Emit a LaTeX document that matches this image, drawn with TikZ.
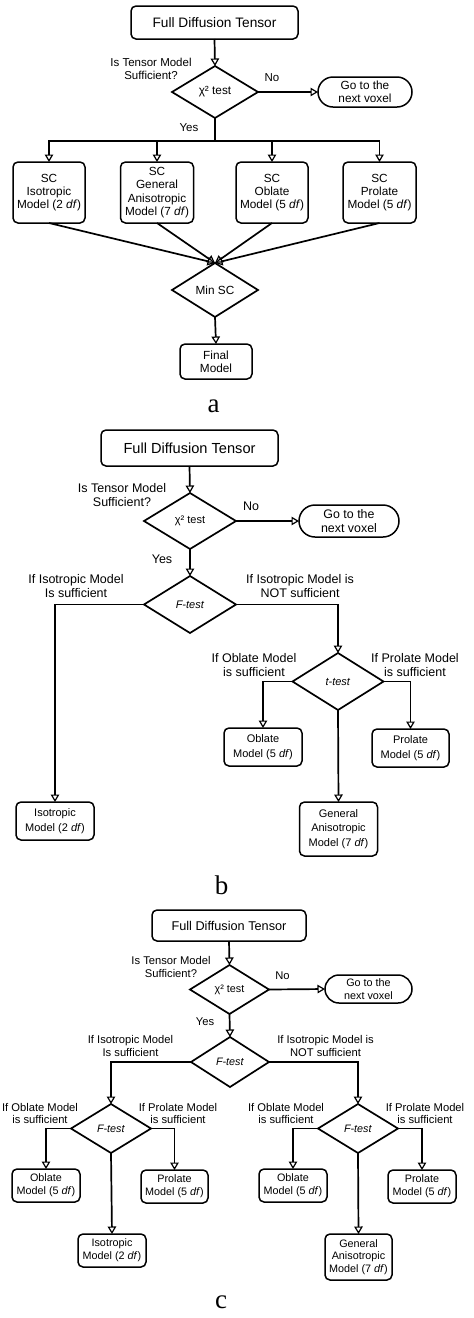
\documentclass[tikz,border=0pt]{standalone}
\usepackage{fontspec}
\setmainfont{Liberation Sans}
\newfontfamily\serifface{Liberation Serif}
\usetikzlibrary{shapes.geometric,shapes.misc,arrows.meta}
\begin{document}
\begin{tikzpicture}[x=1pt,y=-1pt,
  every node/.style={inner sep=0pt, outer sep=0pt},
  box/.style={draw, line width=1.5pt, rounded corners=5pt, align=center},
  dia/.style={draw, diamond, line width=1.7pt, align=center},
  stad/.style={draw, rounded rectangle, line width=1.5pt, align=center},
  lab/.style={align=center},
  ln/.style={line width=1.7pt},
  arr/.style={line width=1.7pt, -{Triangle[open, length=7.5pt, width=8.5pt, line width=1.2pt]}},
  panel/.style={font=\serifface\fontsize{27}{30}\selectfont, anchor=base},
  ta/.style={font=\fontsize{13.7}{15}\selectfont},
  ba/.style={font=\fontsize{11.8}{13.3}\selectfont},
  la/.style={font=\fontsize{11.5}{13.3}\selectfont},
  tb/.style={font=\fontsize{14.6}{16}\selectfont},
  bb/.style={font=\fontsize{11}{14.5}\selectfont},
  lb/.style={font=\fontsize{12.5}{14}\selectfont},
  tc/.style={font=\fontsize{12.7}{14}\selectfont},
  bc/.style={font=\fontsize{10.8}{12.7}\selectfont},
  lc/.style={font=\fontsize{11.2}{12.2}\selectfont},
]
\useasboundingbox (0,0) rectangle (474,1318);

% ---------------- panel a ----------------
\node[box, ta, minimum width=167pt, minimum height=33pt] (fdtA) at (214.5,22.5) {Full Diffusion Tensor};
\node[lab, la] (qA) at (151,69) {Is Tensor Model\\Sufficient?};
\node[dia, ba, minimum width=86pt, minimum height=52pt] (chiA) at (215,92) {χ² test};
\node[la] (noA) at (272,78) {No};
\node[stad, ba, minimum width=94pt, minimum height=30pt] (voxA) at (365,92) {Go to the\\next voxel};
\node[la] (yesA) at (189,128) {Yes};
\coordinate (busA) at (215,141);
\node[box, ba, minimum width=72pt, minimum height=61pt] (sc1) at (49,192.5) {SC\\Isotropic\\Model (2 \textit{df})};
\node[box, ba, minimum width=73pt, minimum height=61pt] (sc2) at (157,192.5) {SC\\General\\Anisotropic\\Model (7 \textit{df})};
\node[box, ba, minimum width=72pt, minimum height=61pt] (sc3) at (272,192.5) {SC\\Oblate\\Model (5 \textit{df})};
\node[box, ba, minimum width=73pt, minimum height=61pt] (sc4) at (379.5,192.5) {SC\\Prolate\\Model (5 \textit{df})};
\node[dia, ba, minimum width=86pt, minimum height=54pt] (minA) at (215,290) {Min SC};
\node[box, ba, minimum width=72pt, minimum height=35pt] (finA) at (216,361.5) {Final\\Model};
\node[panel] (pa) at (213.5,412) {a};

\draw[arr] (fdtA.south) -- (chiA.north);
\draw[arr] (chiA.east) -- (voxA.west);
\draw[ln] (chiA.south) -- (busA);
\draw[arr] (busA) -| (sc1.north);
\draw[arr] (busA) -| (sc2.north);
\draw[arr] (busA) -| (sc3.north);
\draw[arr] (busA) -| (sc4.north);
\draw[arr] (sc1.south) -- (minA.north);
\draw[arr] (sc2.south) -- (minA.north);
\draw[arr] (sc3.south) -- (minA.north);
\draw[arr] (sc4.south) -- (minA.north);
\draw[arr] (minA.south) -- (finA.north);

% ---------------- panel b ----------------
\node[box, tb, minimum width=177pt, minimum height=36pt] (fdtB) at (189.5,448) {Full Diffusion Tensor};
\node[lab, lb] (qB) at (122,495) {Is Tensor Model\\Sufficient?};
\node[dia, bb, minimum width=92pt, minimum height=56pt] (chiB) at (190,521) {χ² test};
\node[lb] (noB) at (251,506) {No};
\node[stad, font=\fontsize{12.4}{14}\selectfont, minimum width=100pt, minimum height=32pt] (voxB) at (349,521) {Go to the\\next voxel};
\node[lb] (yesB) at (162,559) {Yes};
\node[dia, bb, minimum width=92pt, minimum height=57pt] (fB) at (190,604.5) {\textit{F-test}};
\node[lab, lb] (isoLabB) at (76,586) {If Isotropic Model\\Is sufficient};
\node[lab, lb] (notLabB) at (300,586) {If Isotropic Model is\\NOT sufficient};
\node[dia, bb, minimum width=91pt, minimum height=57pt] (tB) at (338,681.5) {\textit{t-test}};
\node[lab, lb] (oblLabB) at (254,665) {If Oblate Model\\is sufficient};
\node[lab, lb] (prolLabB) at (415,665) {If Prolate Model\\is sufficient};
\node[box, bb, minimum width=78pt, minimum height=38pt] (oblB) at (263,747) {Oblate\\Model (5 \textit{df})};
\node[box, bb, minimum width=77pt, minimum height=38pt] (prolB) at (410.5,748) {Prolate\\Model (5 \textit{df})};
\node[box, bb, minimum width=78pt, minimum height=54pt] (genB) at (338.5,829) {General\\Anisotropic\\Model (7 \textit{df})};
\node[box, bb, minimum width=78pt, minimum height=38pt] (isoB) at (55,821) {Isotropic\\Model (2 \textit{df})};
\node[panel] (pb) at (221.5,894) {b};

\draw[arr] (fdtB.south) -- (chiB.north);
\draw[arr] (chiB.east) -- (voxB.west);
\draw[arr] (chiB.south) -- (fB.north);
\draw[arr] (fB.west) -| (isoB.north);
\draw[arr] (fB.east) -| (tB.north);
\draw[arr] (tB.west) -| (oblB.north);
\draw[arr] (tB.east) -| (prolB.north);
\draw[arr] (tB.south) -- (genB.north);

% ---------------- panel c ----------------
\node[box, tc, minimum width=154pt, minimum height=31pt] (fdtC) at (229,925.5) {Full Diffusion Tensor};
\node[lab, lc] (qC) at (171,967) {Is Tensor Model\\Sufficient?};
\node[dia, bc, minimum width=79pt, minimum height=49pt] (chiC) at (229.5,989.5) {χ² test};
\node[lc] (noC) at (282.5,976) {No};
\node[stad, bc, minimum width=87pt, minimum height=28pt] (voxC) at (368.5,989) {Go to the\\next voxel};
\node[lc] (yesC) at (205,1022) {Yes};
\node[dia, bc, minimum width=78pt, minimum height=50pt] (fC) at (230,1062) {\textit{F-test}};
\node[lab, lc] (isoLabC) at (130.5,1046) {If Isotropic Model\\Is sufficient};
\node[lab, lc] (notLabC) at (325.5,1046) {If Isotropic Model is\\NOT sufficient};
\node[dia, bc, minimum width=80pt, minimum height=49pt] (fLC) at (111,1128.5) {\textit{F-test}};
\node[dia, bc, minimum width=80pt, minimum height=49pt] (fRC) at (358,1128.5) {\textit{F-test}};
\node[lab, lc] (oblLabC1) at (40,1113.5) {If Oblate Model\\is sufficient};
\node[lab, lc] (prolLabC1) at (178,1113.5) {If Prolate Model\\is sufficient};
\node[lab, lc] (oblLabC2) at (286,1113.5) {If Oblate Model\\is sufficient};
\node[lab, lc] (prolLabC2) at (425,1113.5) {If Prolate Model\\is sufficient};
\node[box, bc, minimum width=68pt, minimum height=33pt] (oblC1) at (46,1185.5) {Oblate\\Model (5 \textit{df})};
\node[box, bc, minimum width=67pt, minimum height=33pt] (prolC1) at (174.5,1186.5) {Prolate\\Model (5 \textit{df})};
\node[box, bc, minimum width=68pt, minimum height=33pt] (isoC) at (112,1250.5) {Isotropic\\Model (2 \textit{df})};
\node[box, bc, minimum width=68pt, minimum height=33pt] (oblC2) at (293,1185.5) {Oblate\\Model (5 \textit{df})};
\node[box, bc, minimum width=68pt, minimum height=33pt] (prolC2) at (422,1186.5) {Prolate\\Model (5 \textit{df})};
\node[box, bc, minimum width=67pt, minimum height=46pt] (genC) at (358.5,1257) {General\\Anisotropic\\Model (7 \textit{df})};
\node[panel] (pc) at (221,1308) {c};

\draw[arr] (fdtC.south) -- (chiC.north);
\draw[arr] (chiC.east) -- (voxC.west);
\draw[arr] (chiC.south) -- (fC.north);
\draw[arr] (fC.west) -| (fLC.north);
\draw[arr] (fC.east) -| (fRC.north);
\draw[arr] (fLC.west) -| (oblC1.north);
\draw[arr] (fLC.east) -| (prolC1.north);
\draw[arr] (fLC.south) -- (isoC.north);
\draw[arr] (fRC.west) -| (oblC2.north);
\draw[arr] (fRC.east) -| (prolC2.north);
\draw[arr] (fRC.south) -- (genC.north);
\end{tikzpicture}
\end{document}
